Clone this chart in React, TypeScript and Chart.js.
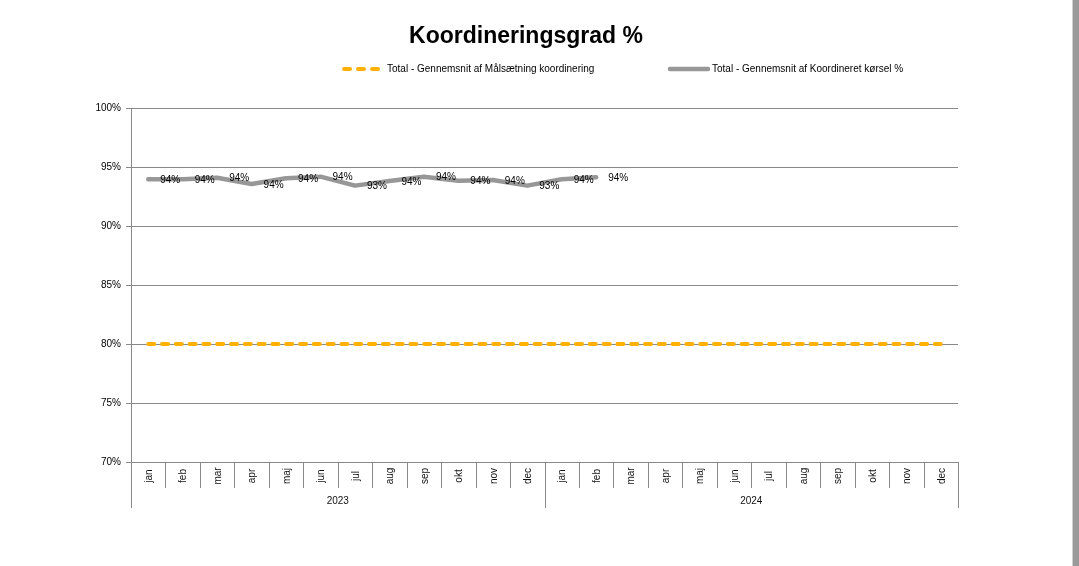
import React, { useEffect, useRef } from "react";
import { Chart, registerables } from "chart.js";

Chart.register(...registerables);

const titleText = "Koordineringsgrad %";
const months = ["jan", "feb", "mar", "apr", "maj", "jun", "jul", "aug", "sep", "okt", "nov", "dec"];
const years = ["2023", "2024"];
const categories = [
  "jan 2023", "feb 2023", "mar 2023", "apr 2023", "maj 2023", "jun 2023",
  "jul 2023", "aug 2023", "sep 2023", "okt 2023", "nov 2023", "dec 2023",
  "jan 2024", "feb 2024", "mar 2024", "apr 2024", "maj 2024", "jun 2024",
  "jul 2024", "aug 2024", "sep 2024", "okt 2024", "nov 2024", "dec 2024",
];
const targetLabel = "Total - Gennemsnit af Målsætning koordinering";
const actualLabel = "Total - Gennemsnit af Koordineret kørsel %";
const targetValues = [80, 80, 80, 80, 80, 80, 80, 80, 80, 80, 80, 80, 80, 80, 80, 80, 80, 80, 80, 80, 80, 80, 80, 80];
const actualValues = [
  93.96, 93.96, 94.09, 93.56, 94.04, 94.18, 93.42, 93.81, 94.18, 93.84, 93.9, 93.42,
  93.96, 94.13, null, null, null, null, null, null, null, null, null, null,
];
const yMin = 70;
const yMax = 100;
const yStep = 5;

const FONT = '"Liberation Sans", Arial, sans-serif';
const GRID = "#898989";
const ORANGE = "#FFB000";
const GREY = "#979797";

const customPlugin = {
  id: "custom",
  afterDatasetsDraw(chart: any) {
    const ctx = chart.ctx;
    const meta = chart.getDatasetMeta(1);
    const data = chart.data.datasets[1].data;
    ctx.save();
    ctx.font = `10px ${FONT}`;
    ctx.fillStyle = "#000";
    ctx.textAlign = "left";
    ctx.textBaseline = "middle";
    meta.data.forEach((el: any, i: number) => {
      const v = data[i];
      if (v === null || v === undefined) return;
      ctx.fillText(`${Math.round(v)}%`, el.x + 12, el.y + 1);
    });
    ctx.restore();
  },
  afterDraw(chart: any) {
    const ctx = chart.ctx;
    const area = chart.chartArea;
    const xs = chart.scales.x;
    const n = categories.length;
    const w = (area.right - area.left) / n;
    ctx.save();
    // title
    ctx.fillStyle = "#000";
    ctx.font = `bold 23px ${FONT}`;
    ctx.textAlign = "center";
    ctx.textBaseline = "middle";
    ctx.fillText(titleText, 526, 37);

    // legend
    const ds = chart.data.datasets;
    ctx.lineCap = "round";
    ctx.lineWidth = 4;
    ctx.strokeStyle = ds[0].borderColor;
    ctx.setLineDash([6, 8]);
    ctx.beginPath();
    ctx.moveTo(344, 69);
    ctx.lineTo(379, 69);
    ctx.stroke();
    ctx.setLineDash([]);
    ctx.strokeStyle = ds[1].borderColor;
    ctx.lineWidth = 4.5;
    ctx.beginPath();
    ctx.moveTo(670, 69);
    ctx.lineTo(708, 69);
    ctx.stroke();
    ctx.font = `10px ${FONT}`;
    ctx.textAlign = "left";
    ctx.fillStyle = "#000";
    ctx.fillText(ds[0].label, 387, 69);
    ctx.fillText(ds[1].label, 712, 69);

    // x axis separators
    ctx.strokeStyle = GRID;
    ctx.lineWidth = 1;
    ctx.lineCap = "butt";
    for (let i = 0; i <= n; i++) {
      const x = Math.round(area.left + i * w) + 0.5;
      const long = i % months.length === 0;
      ctx.beginPath();
      ctx.moveTo(x, area.bottom);
      ctx.lineTo(x, area.bottom + (long ? 46 : 26));
      ctx.stroke();
    }
    // month labels
    ctx.fillStyle = "#111";
    ctx.font = `10px ${FONT}`;
    for (let i = 0; i < n; i++) {
      const cx = xs.getPixelForValue(i);
      ctx.save();
      ctx.translate(cx + 1, area.bottom + 14);
      ctx.rotate(-Math.PI / 2);
      ctx.textAlign = "center";
      ctx.textBaseline = "middle";
      ctx.fillText(months[i % months.length], 0, 0);
      ctx.restore();
    }
    // year labels
    ctx.textAlign = "center";
    ctx.textBaseline = "middle";
    years.forEach((y, k) => {
      const x0 = area.left + k * months.length * w;
      const x1 = x0 + months.length * w;
      ctx.fillText(y, (x0 + x1) / 2, area.bottom + 39);
    });
    ctx.restore();
  },
};

export default function App() {
  const ref = useRef<HTMLCanvasElement>(null);
  useEffect(() => {
    if (!ref.current) return;
    const chart = new Chart(ref.current, {
      type: "line",
      data: {
        labels: categories,
        datasets: [
          {
            label: targetLabel,
            data: targetValues,
            borderColor: ORANGE,
            backgroundColor: ORANGE,
            borderWidth: 4,
            borderDash: [6, 7.8],
            borderCapStyle: "round",
            pointRadius: 0,
            tension: 0,
          },
          {
            label: actualLabel,
            data: actualValues,
            borderColor: GREY,
            backgroundColor: GREY,
            borderWidth: 4.5,
            borderCapStyle: "round",
            borderJoinStyle: "round",
            pointRadius: 0,
            tension: 0,
            spanGaps: false,
          },
        ],
      },
      options: {
        animation: false,
        responsive: false,
        maintainAspectRatio: false,
        layout: { padding: { top: 108, right: 121, bottom: 104, left: 0 } },
        plugins: {
          legend: { display: false },
          title: { display: false },
          tooltip: { enabled: false },
        },
        scales: {
          x: { display: false, offset: true },
          y: {
            min: yMin,
            max: yMax,
            afterFit: (s: any) => {
              s.width = 131;
            },
            ticks: {
              stepSize: yStep,
              callback: (v: any) => `${v}%`,
              font: { family: FONT, size: 10 },
              color: "#000",
              padding: 5,
            },
            grid: { color: GRID, tickLength: 5, lineWidth: 1 },
            border: { color: GRID },
          },
        },
      },
      plugins: [customPlugin],
    });
    return () => chart.destroy();
  }, []);
  return (
    <div style={{ position: "absolute", left: 0, top: 0, width: 1079, height: 566, background: "#fff" }}>
      <canvas ref={ref} width={1079} height={566} style={{ width: 1079, height: 566, display: "block" }} />
      <div style={{ position: "absolute", left: 1072, top: 0, width: 1, height: 566, background: "#cfcfcf" }} />
      <div style={{ position: "absolute", left: 1073, top: 0, width: 6, height: 566, background: "#9a9a9a" }} />
    </div>
  );
}
